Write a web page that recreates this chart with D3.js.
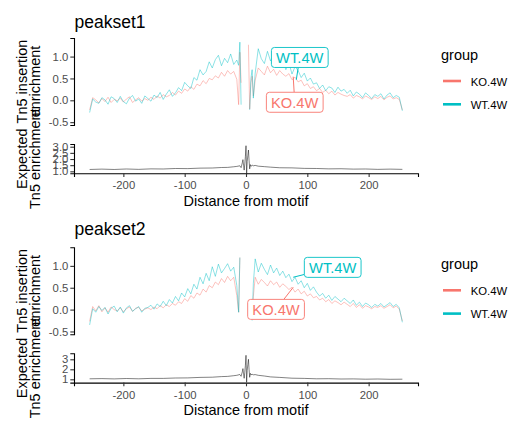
<!DOCTYPE html>
<html>
<head>
<meta charset="utf-8">
<script src="https://cdn.jsdelivr.net/npm/d3@7"></script>
<style>
  body { margin: 0; background: #fff; }
  svg text { font-family: "Liberation Sans", Arial, sans-serif; }
</style>
</head>
<body>
<div id="chart"></div>
<script>
// positions (distance from motif) shared by the footprint series
var pos = [
  -255,-250,-245,-240,-235,-230,-225,-220,-215,-210,
  -205,-200,-195,-190,-185,-180,-175,-170,-165,-160,
  -155,-150,-145,-140,-135,-130,-125,-120,-115,-110,
  -105,-100,-95,-90,-85,-80,-75,-70,-65,-60,
  -55,-50,-45,-40,-35,-30,-25,-20,-15,
  -12,-10,-8,-6,-4,-2,0,2,4,6,8,10,12,
  15,20,25,30,35,40,45,50,55,60,
  65,70,75,80,85,90,95,100,105,110,
  115,120,125,130,135,140,145,150,155,160,
  165,170,175,180,185,190,195,200,205,210,
  215,220,225,230,235,240,245,250,255];

// peakset1
var ko1 = [
  -0.22,0.06,0.01,-0.06,0.04,-0.03,0.07,-0.05,0.02,-0.01,
  0.05,-0.04,0.03,0.08,-0.05,0.01,0.06,-0.02,0.04,0.00,
  0.07,0.02,0.10,0.05,0.13,0.08,0.11,0.18,0.12,0.21,
  0.16,0.26,0.21,0.31,0.25,0.37,0.33,0.45,0.38,0.50,
  0.47,0.56,0.51,0.64,0.55,0.68,0.60,0.66,0.48,
  -0.10,1.10,0.40,null,null,null,null,null,1.27,-0.20,0.40,0.55,0.10,
  0.46,0.74,0.66,0.58,0.78,0.63,0.71,0.57,0.68,0.60,
  0.55,0.61,0.47,0.53,0.42,0.46,0.33,0.38,0.27,0.31,
  0.22,0.27,0.18,0.23,0.15,0.21,0.12,0.18,0.14,0.11,
  0.09,0.13,0.05,0.11,0.08,0.03,0.10,0.06,0.02,0.08,
  0.04,0.09,0.01,0.07,0.10,0.03,0.06,0.02,-0.22];
var wt1 = [
  -0.28,0.03,-0.04,-0.07,0.06,0.01,-0.09,0.08,0.04,-0.05,
  0.09,-0.03,-0.08,0.05,0.11,-0.02,0.03,-0.07,0.10,0.04,
  -0.02,0.12,0.06,0.18,0.02,0.14,0.24,0.09,0.17,0.29,
  0.22,0.41,0.33,0.27,0.52,0.46,0.70,0.58,0.66,0.88,
  0.74,0.93,1.03,0.79,0.96,0.86,1.06,0.82,0.92,
  0.80,1.33,-0.10,null,null,null,null,null,null,-0.22,0.50,0.70,0.05,
  0.62,1.18,0.95,0.84,1.12,0.90,1.04,0.83,0.98,0.91,
  0.70,0.86,0.60,0.77,0.68,0.52,0.62,0.44,0.51,0.37,
  0.40,0.27,0.35,0.22,0.31,0.28,0.18,0.30,0.21,0.25,
  0.16,0.23,0.10,0.19,0.14,0.06,0.17,0.11,0.04,0.13,
  0.09,0.15,0.03,0.12,0.17,0.06,0.11,0.07,-0.24];

// peakset2
var ko2 = [
  -0.27,0.07,-0.03,0.09,-0.05,0.04,-0.06,0.06,0.00,-0.03,
  0.04,-0.05,0.02,0.06,-0.04,0.03,0.05,-0.03,0.01,0.04,
  0.00,0.06,0.02,0.09,0.04,0.11,0.07,0.14,0.10,0.18,
  0.14,0.25,0.19,0.32,0.26,0.38,0.33,0.47,0.40,0.55,
  0.50,0.63,0.57,0.71,0.62,0.76,0.66,0.74,0.32,
  -0.06,1.19,null,null,null,null,null,null,null,null,null,-0.10,0.30,
  0.74,0.58,0.69,0.62,0.54,0.66,0.57,0.63,0.51,0.59,
  0.53,0.46,0.51,0.40,0.47,0.36,0.42,0.31,0.36,0.27,
  0.30,0.22,0.26,0.18,0.23,0.14,0.20,0.16,0.11,0.17,
  0.12,0.07,0.14,0.05,0.11,0.03,0.09,0.06,0.02,0.07,
  0.05,0.09,0.03,0.07,0.11,0.04,0.08,0.01,-0.26];
var wt2 = [
  -0.35,0.02,-0.06,0.07,-0.02,0.05,-0.10,0.03,0.08,-0.05,
  0.06,-0.08,0.04,0.09,-0.04,0.02,0.07,-0.06,0.03,0.05,
  0.10,0.01,0.13,0.07,0.19,0.09,0.23,0.15,0.30,0.20,
  0.38,0.29,0.48,0.36,0.58,0.47,0.74,0.59,0.83,0.66,
  0.98,0.76,1.04,0.84,0.94,1.05,0.88,0.97,0.55,
  -0.06,1.19,null,null,null,null,null,null,null,null,null,-0.25,0.60,
  1.16,0.86,1.06,0.92,0.80,1.02,0.84,0.95,0.78,0.88,
  0.73,0.81,0.64,0.74,0.58,0.66,0.50,0.60,0.44,0.52,
  0.40,0.31,0.37,0.26,0.33,0.21,0.30,0.24,0.18,0.26,
  0.20,0.14,0.22,0.10,0.17,0.07,0.15,0.11,0.05,0.12,
  0.08,0.14,0.06,0.11,0.16,0.07,0.12,0.04,-0.29];

// Tn5 bias tracks
var biasPos = [-255,-235,-215,-195,-175,-155,-135,-115,-95,-75,-55,-40,-30,-20,
  -15,-10,-8,-6,-5,-4,-3,-2,-1,0,1,2,3,4,5,6,7,8,10,12,15,20,
  30,40,55,75,95,115,135,155,175,195,215,235,255];
var bias1 = [1.15,1.18,1.15,1.19,1.16,1.20,1.19,1.23,1.22,1.26,1.27,1.31,1.32,1.37,
  1.40,1.45,1.30,1.70,1.95,1.50,1.10,1.60,2.20,3.08,0.75,1.80,2.30,2.73,1.90,1.20,1.55,1.40,1.50,1.45,1.48,1.42,
  1.38,1.34,1.29,1.28,1.24,1.23,1.20,1.21,1.18,1.19,1.16,1.18,1.16];
var bias2 = [1.05,1.07,1.04,1.08,1.05,1.09,1.09,1.13,1.14,1.19,1.21,1.27,1.29,1.36,
  1.40,1.48,1.30,1.75,2.07,1.55,1.10,1.70,2.40,3.40,0.73,1.90,2.50,3.00,2.00,1.20,1.60,1.45,1.50,1.45,1.47,1.40,
  1.33,1.24,1.19,1.11,1.09,1.05,1.06,1.03,1.04,1.01,1.03,1.00,1.01];

var groups = ["KO.4W", "WT.4W"];
var colors = ["#F8766D", "#00BFC4"];
var xTicks = [-200, -100, 0, 100, 200];
var yTicks = [-0.5, 0.0, 0.5, 1.0];

var panels = [
  { title: "peakset1", top: 38, titleY: 28.2, series: [ko1, wt1], bias: bias1,
    biasDomain: [0.84, 3.22], biasTicks: [1.0, 1.5, 2.0, 2.5, 3.0], biasDigits: 1,
    // label anchor [pos, value] and box centre [pos, value], per group
    anchors: [[77, 0.54], [82, 0.47]], boxes: [[79.5, -0.045], [87.7, 0.98]] },
  { title: "peakset2", top: 247.3, titleY: 234.8, series: [ko2, wt2], bias: bias2,
    biasDomain: [0.67, 3.6], biasTicks: [1, 2, 3], biasDigits: 0,
    anchors: [[77, 0.51], [77, 0.74]], boxes: [[49, 0.005], [141.4, 0.966]] }
];

var W = 532, H = 432;
var svg = d3.select("#chart").append("svg")
  .attr("width", W).attr("height", H);

var x = d3.scaleLinear().domain([-280.5, 280.5]).range([74, 418]);

function styleAxis(g) {
  g.select(".domain").attr("stroke", "#000").attr("stroke-width", 1.1);
  g.selectAll(".tick line").attr("stroke", "#333").attr("stroke-width", 1.1);
  g.selectAll(".tick text").attr("fill", "#4D4D4D").attr("font-size", "11.3px")
    .attr("font-family", "Liberation Sans, Arial, sans-serif");
}

panels.forEach(function(p, i) {
  var mainTop = p.top, mainBot = p.top + 87;
  var lowTop = p.top + 106, lowBot = p.top + 135.3;

  var y = d3.scaleLinear().domain([-0.565, 1.425]).range([mainBot, mainTop]);
  var yb = d3.scaleLinear().domain(p.biasDomain).range([lowBot, lowTop]);

  var clipMain = "clipm" + i, clipLow = "clipl" + i;
  svg.append("clipPath").attr("id", clipMain).append("rect")
    .attr("x", 74).attr("y", mainTop).attr("width", 344).attr("height", 87);
  svg.append("clipPath").attr("id", clipLow).append("rect")
    .attr("x", 74).attr("y", lowTop).attr("width", 344).attr("height", 135.3 - 106 + 2);

  // title
  svg.append("text").attr("x", 74.5).attr("y", p.titleY)
    .attr("font-size", "17.5px").attr("fill", "#000").text(p.title);

  // footprint lines
  var line = d3.line()
    .defined(function(d) { return d[1] !== null; })
    .x(function(d) { return x(d[0]); })
    .y(function(d) { return y(d[1]); });

  p.series.forEach(function(vals, k) {
    svg.append("path")
      .datum(pos.map(function(ps, j) { return [ps, vals[j]]; }))
      .attr("clip-path", "url(#" + clipMain + ")")
      .attr("fill", "none")
      .attr("stroke", colors[k])
      .attr("stroke-opacity", 0.6)
      .attr("stroke-width", 0.75)
      .attr("stroke-linejoin", "round")
      .attr("d", line);
  });

  // bias line
  var bline = d3.line()
    .x(function(d) { return x(d[0]); })
    .y(function(d) { return yb(d[1]); });
  svg.append("path")
    .datum(biasPos.map(function(ps, j) { return [ps, p.bias[j]]; }))
    .attr("clip-path", "url(#" + clipLow + ")")
    .attr("fill", "none")
    .attr("stroke", "#000")
    .attr("stroke-opacity", 0.7)
    .attr("stroke-width", 0.7)
    .attr("d", bline);

  // axes
  svg.append("g").attr("transform", "translate(74,0)")
    .call(d3.axisLeft(y).tickValues(yTicks).tickFormat(function(d) { return d.toFixed(1); })
      .tickSizeOuter(0).tickSize(3.7).tickPadding(2))
    .call(styleAxis);
  svg.append("g").attr("transform", "translate(74,0)")
    .call(d3.axisLeft(yb).tickValues(p.biasTicks).tickFormat(function(d) { return d.toFixed(p.biasDigits); })
      .tickSizeOuter(0).tickSize(3.7).tickPadding(2))
    .call(styleAxis);
  svg.append("g").attr("transform", "translate(0," + lowBot + ")")
    .call(d3.axisBottom(x).tickValues(xTicks).tickFormat(function(d) { return String(d); })
      .tickSizeOuter(0).tickSize(3.7).tickPadding(4.3))
    .call(styleAxis);

  // axis titles
  svg.append("text").attr("x", 246).attr("y", lowBot + 32.7)
    .attr("text-anchor", "middle").attr("font-size", "14.5px").text("Distance from motif");

  function yTitle(lines, cy) {
    var g = svg.append("g").attr("transform", "translate(0," + cy + ") rotate(-90)");
    lines.forEach(function(t, k) {
      g.append("text").attr("x", 0).attr("y", 26.8 + k * 13.3)
        .attr("text-anchor", "middle").attr("font-size", "14.5px").text(t);
    });
  }
  yTitle(["Tn5 insertion", "enrichment"], (mainTop + mainBot) / 2);
  yTitle(["Expected", "Tn5 enrichment"], (lowTop + lowBot) / 2);

  // repel-style labels
  groups.forEach(function(gname, k) {
    var ax = x(p.anchors[k][0]), ay = y(p.anchors[k][1]);
    var cx = x(p.boxes[k][0]), cy = y(p.boxes[k][1]);
    var g = svg.append("g");
    var seg = g.append("line");
    var rect = g.append("rect");
    var txt = g.append("text").attr("x", cx).attr("y", cy + 5.3)
      .attr("text-anchor", "middle").attr("font-size", "14.7px")
      .attr("fill", colors[k]).text(gname);
    var bw = txt.node().getComputedTextLength() + 9.4, bh = 20;
    rect.attr("x", cx - bw / 2).attr("y", cy - bh / 2)
      .attr("width", bw).attr("height", bh).attr("rx", 3)
      .attr("fill", "#fff").attr("stroke", colors[k]).attr("stroke-width", 0.9);
    var dx = ax - cx, dy = ay - cy;
    var t = Math.min(dx === 0 ? Infinity : (bw / 2) / Math.abs(dx),
                     dy === 0 ? Infinity : (bh / 2) / Math.abs(dy));
    seg.attr("x1", cx + dx * t).attr("y1", cy + dy * t)
      .attr("x2", ax).attr("y2", ay)
      .attr("stroke", colors[k]).attr("stroke-width", 1);
  });

  // legend
  svg.append("text").attr("x", 441).attr("y", p.top + 22)
    .attr("font-size", "14.5px").text("group");
  groups.forEach(function(gname, k) {
    var ky = p.top + 43 + k * 23.3;
    svg.append("line").attr("x1", 443).attr("x2", 461)
      .attr("y1", ky).attr("y2", ky)
      .attr("stroke", colors[k]).attr("stroke-width", 2.6);
    svg.append("text").attr("x", 470.7).attr("y", ky + 4.6)
      .attr("font-size", "11.3px").text(gname);
  });
});
</script>
</body>
</html>
